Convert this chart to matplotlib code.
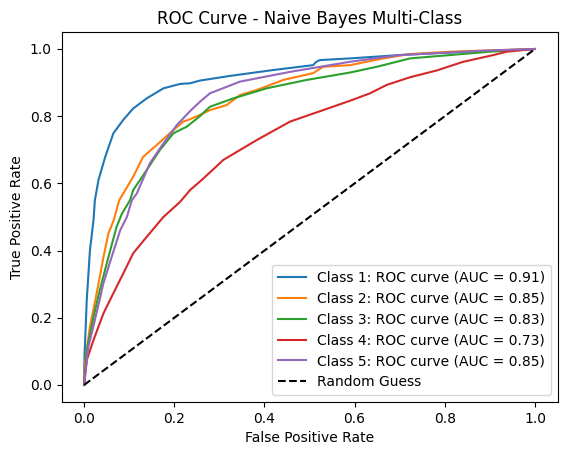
import matplotlib
matplotlib.use("Agg")
import matplotlib.pyplot as plt

# ROC points
fpr_1 = [0, 0.001, 0.006, 0.013, 0.021, 0.024, 0.032, 0.047, 0.065, 0.087, 0.109, 0.139, 0.176, 0.213, 0.235, 0.257, 0.324, 0.42, 0.508, 0.515, 0.523, 0.59, 0.70, 0.85, 1.0]
tpr_1 = [0, 0.084, 0.253, 0.40, 0.491, 0.55, 0.61, 0.679, 0.749, 0.789, 0.823, 0.853, 0.883, 0.896, 0.898, 0.906, 0.92, 0.9375, 0.952, 0.962, 0.967, 0.972, 0.982, 0.992, 1.0]

fpr_2 = [0, 0.002, 0.013, 0.028, 0.043, 0.054, 0.066, 0.078, 0.087, 0.109, 0.131, 0.161, 0.19, 0.22, 0.235, 0.257, 0.279, 0.316, 0.346, 0.383, 0.442, 0.508, 0.53, 0.59, 0.664, 0.723, 0.812, 1.0]
tpr_2 = [0, 0.065, 0.173, 0.273, 0.38, 0.451, 0.491, 0.55, 0.57, 0.62, 0.679, 0.714, 0.749, 0.784, 0.791, 0.804, 0.818, 0.833, 0.863, 0.878, 0.908, 0.928, 0.947, 0.952, 0.972, 0.985, 0.992, 1.0]

fpr_3 = [0, 0.006, 0.021, 0.035, 0.054, 0.072, 0.084, 0.102, 0.109, 0.139, 0.168, 0.198, 0.228, 0.257, 0.279, 0.331, 0.405, 0.494, 0.59, 0.649, 0.723, 0.812, 0.90, 1.0]
tpr_3 = [0, 0.104, 0.203, 0.283, 0.38, 0.47, 0.51, 0.55, 0.58, 0.64, 0.699, 0.749, 0.769, 0.80, 0.828, 0.853, 0.883, 0.908, 0.93, 0.947, 0.972, 0.982, 0.992, 1.0]

fpr_4 = [0, 0.006, 0.021, 0.043, 0.065, 0.087, 0.109, 0.139, 0.176, 0.213, 0.235, 0.265, 0.309, 0.383, 0.457, 0.53, 0.59, 0.634, 0.671, 0.723, 0.782, 0.841, 0.908, 0.937, 1.0]
tpr_4 = [0, 0.074, 0.134, 0.213, 0.273, 0.332, 0.392, 0.441, 0.50, 0.545, 0.58, 0.615, 0.67, 0.729, 0.784, 0.818, 0.846, 0.868, 0.893, 0.916, 0.936, 0.962, 0.982, 0.992, 1.0]

fpr_5 = [0, 0.0096, 0.024, 0.043, 0.061, 0.08, 0.095, 0.106, 0.117, 0.146, 0.176, 0.206, 0.235, 0.257, 0.279, 0.346, 0.457, 0.59, 0.70, 0.885, 1.0]
tpr_5 = [0, 0.114, 0.193, 0.303, 0.38, 0.46, 0.50, 0.55, 0.57, 0.66, 0.719, 0.774, 0.815, 0.843, 0.868, 0.903, 0.932, 0.962, 0.982, 0.995, 1.0]

aucs = [0.91, 0.85, 0.83, 0.73, 0.85]
fprs = [fpr_1, fpr_2, fpr_3, fpr_4, fpr_5]
tprs = [tpr_1, tpr_2, tpr_3, tpr_4, tpr_5]

fig = plt.figure(figsize=(5.67, 4.55), dpi=100)
ax = fig.add_axes([61.5 / 567, 53.2 / 455, 496 / 567, 369.6 / 455])

for i in range(5):
    ax.plot(fprs[i], tprs[i], label=f"Class {i + 1}: ROC curve (AUC = {aucs[i]:.2f})")
ax.plot([0, 1], [0, 1], "k--", label="Random Guess")

ax.set_xlabel("False Positive Rate")
ax.set_ylabel("True Positive Rate")
ax.set_title("ROC Curve - Naive Bayes Multi-Class")
ax.legend(loc="lower right")

fig.savefig("out.png", dpi=100)
